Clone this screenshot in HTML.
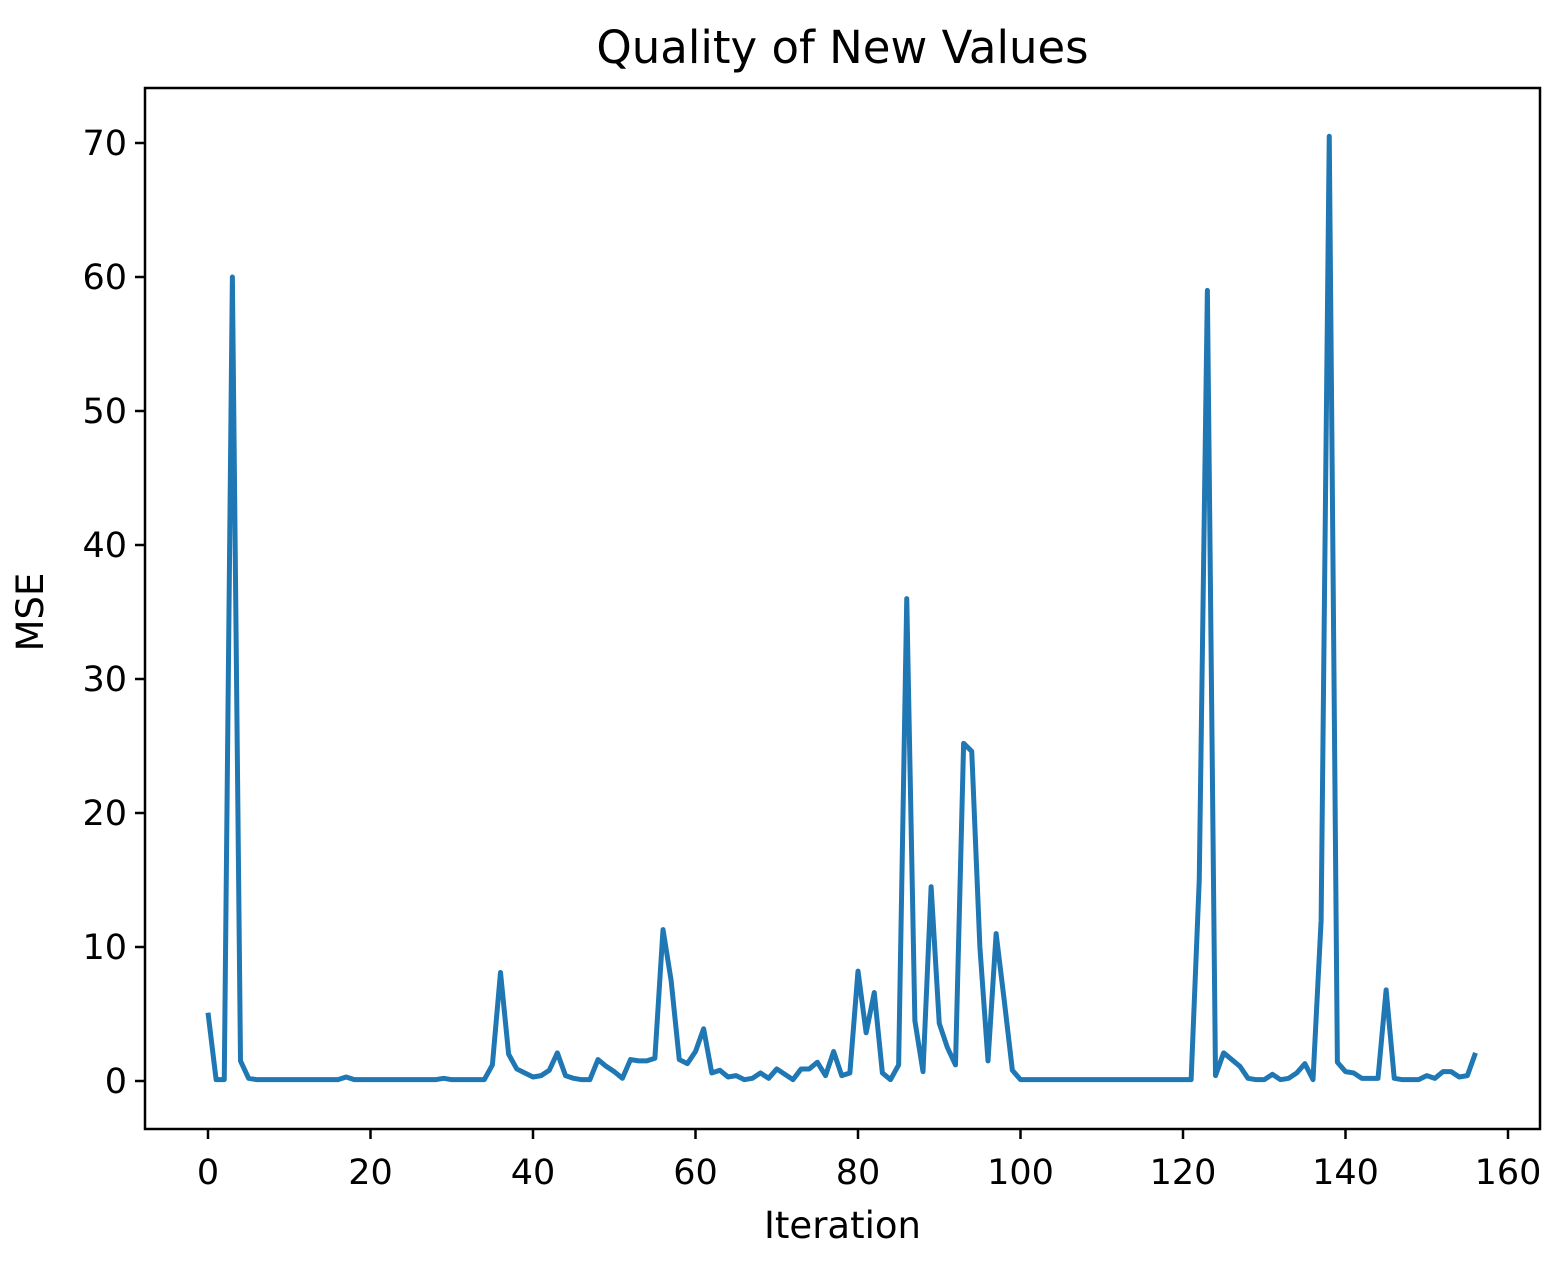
<!DOCTYPE html>
<html><head><meta charset="utf-8"><style>
body{margin:0;background:#fff;}
svg text{font-family:"DejaVu Sans","Liberation Sans",sans-serif;fill:#000;}
</style></head><body>
<svg width="1568" height="1265" xmlns="http://www.w3.org/2000/svg">
<g id="plot"></g>
</svg>
<script>
const yValues=[5.1,0.1,0.1,60,1.5,0.2,0.1,0.1,0.1,0.1,0.1,0.1,0.1,0.1,0.1,0.1,0.1,0.3,0.1,0.1,
0.1,0.1,0.1,0.1,0.1,0.1,0.1,0.1,0.1,0.2,0.1,0.1,0.1,0.1,0.1,1.2,8.1,2,0.9,0.6,
0.3,0.4,0.8,2.1,0.4,0.2,0.1,0.1,1.6,1.1,0.7,0.2,1.6,1.5,1.5,1.7,11.3,7.5,1.6,1.3,
2.2,3.9,0.6,0.8,0.3,0.4,0.1,0.2,0.6,0.2,0.9,0.5,0.1,0.9,0.9,1.4,0.4,2.2,0.4,0.6,
8.2,3.6,6.6,0.6,0.1,1.2,36,4.5,0.7,14.5,4.3,2.5,1.2,25.2,24.6,10,1.5,11,6,0.8,
0.1,0.1,0.1,0.1,0.1,0.1,0.1,0.1,0.1,0.1,0.1,0.1,0.1,0.1,0.1,0.1,0.1,0.1,0.1,0.1,
0.1,0.1,15,59,0.4,2.1,1.6,1.1,0.2,0.1,0.1,0.5,0.1,0.2,0.6,1.3,0.1,12,70.5,1.4,
0.7,0.6,0.2,0.2,0.2,6.8,0.2,0.1,0.1,0.1,0.4,0.2,0.7,0.7,0.3,0.4,2.1];
const xTicks=[0,20,40,60,80,100,120,140,160];
const yTicks=[0,10,20,30,40,50,60,70];
const NS="http://www.w3.org/2000/svg";
const L=145,R=1540,T=88,B=1129;
const xs=v=>208+v*8.125;
const ys=v=>1081-v*13.4;
const g=document.getElementById('plot');
function mk(t,a){const e=document.createElementNS(NS,t);for(const k in a)e.setAttribute(k,a[k]);g.appendChild(e);return e;}
const frame=mk('rect',{x:L,y:T,width:R-L,height:B-T,fill:'none',stroke:'#000','stroke-width':2.5});


xTicks.forEach(v=>{
 const l=mk('line',{x1:xs(v),x2:xs(v),y1:B,y2:B+10,stroke:'#000','stroke-width':2.5});
 
 
 const t=mk('text',{x:xs(v),y:B+55,'text-anchor':'middle','font-size':35});
 t.textContent=v;
 
 
});
yTicks.forEach(v=>{
 const l=mk('line',{x1:L-10,x2:L,y1:ys(v),y2:ys(v),stroke:'#000','stroke-width':2.5});
 
 
 const t=mk('text',{x:L-18,y:ys(v)+12,'text-anchor':'end','font-size':35});
 t.textContent=v;
 
 
});
const line=mk('polyline',{points:yValues.map((v,i)=>xs(i)+','+ys(v)).join(' '),fill:'none',stroke:'#1f77b4','stroke-width':5,'stroke-linejoin':'round'});


const tt=mk('text',{x:(L+R)/2,y:63,'text-anchor':'middle','font-size':45});
tt.textContent='Quality of New Values';


const xl=mk('text',{x:(L+R)/2,y:1238,'text-anchor':'middle','font-size':37});
xl.textContent='Iteration';


const yl=mk('text',{x:0,y:0,'text-anchor':'middle','font-size':37,transform:'translate(43,612) rotate(-90)'});
yl.textContent='MSE';


</script>
</body></html>
